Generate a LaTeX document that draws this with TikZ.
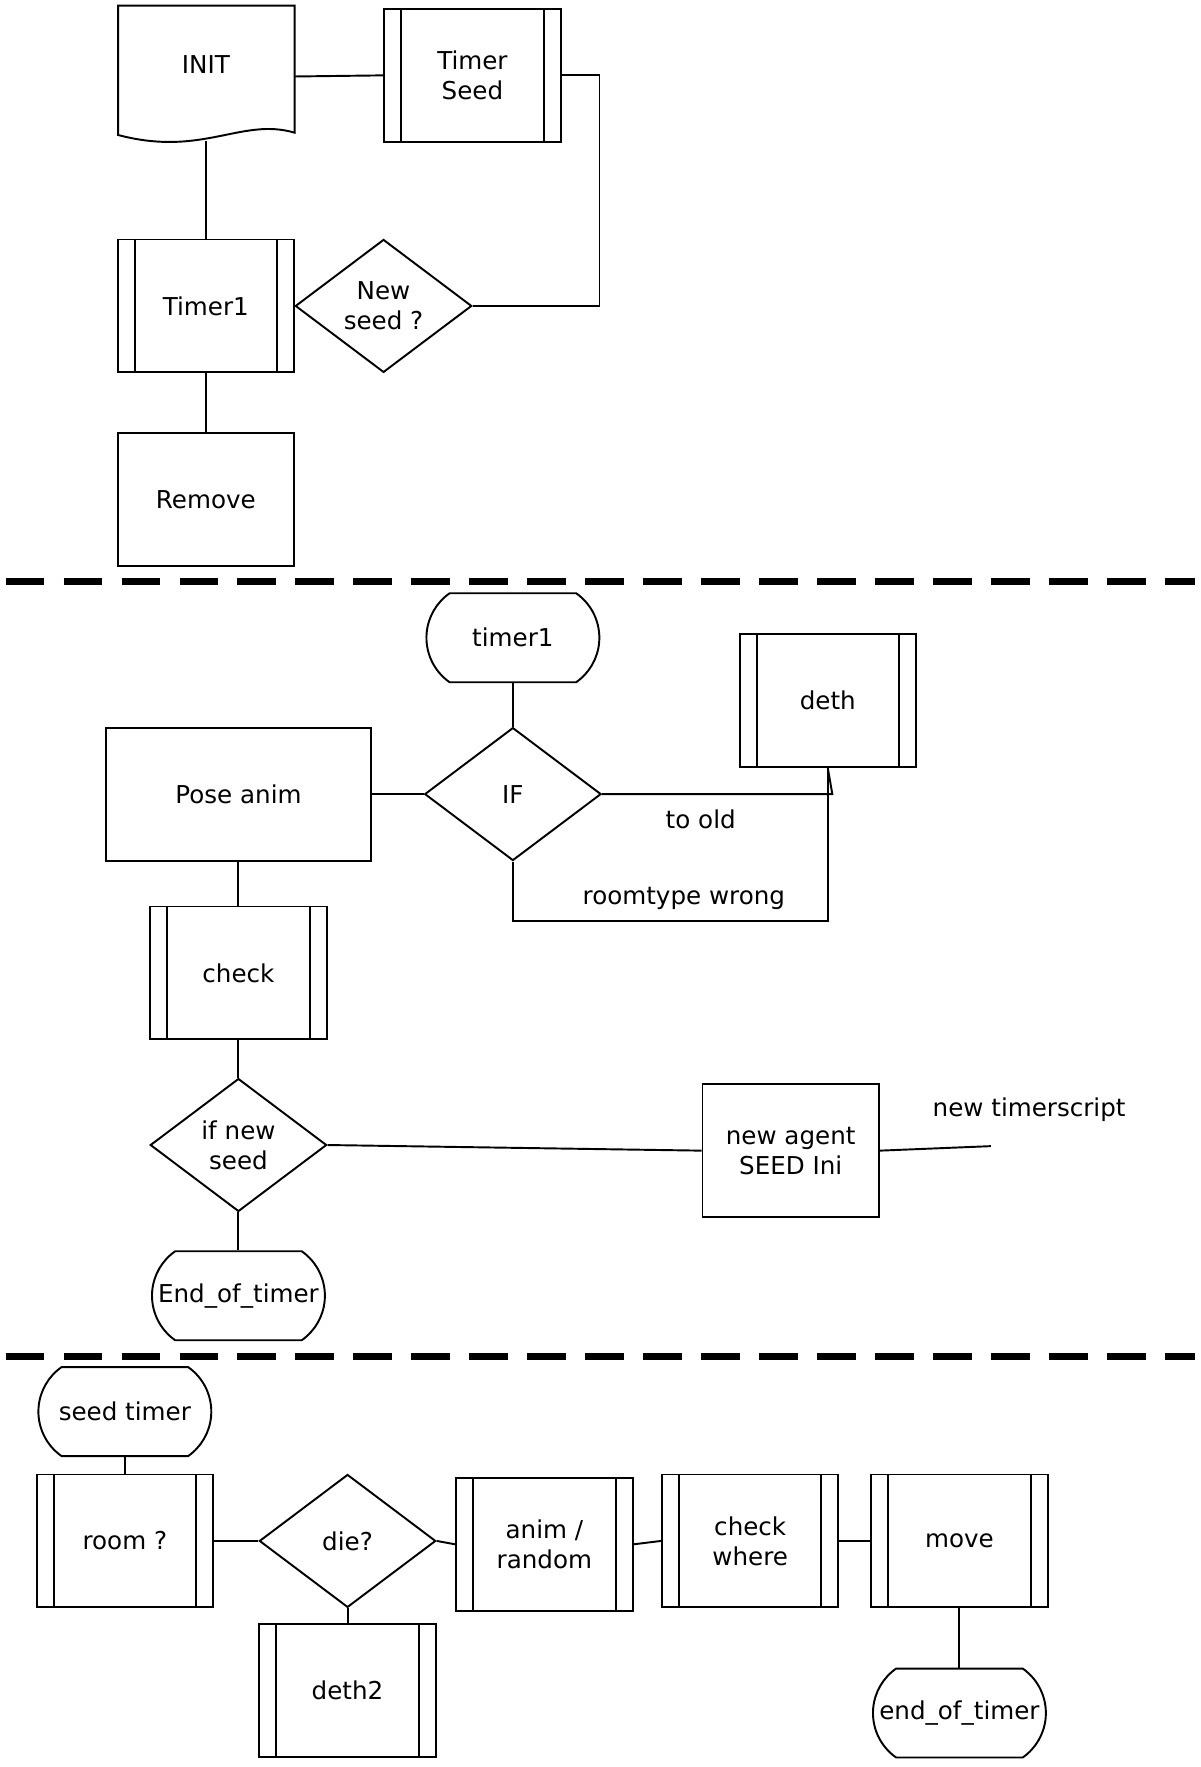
\documentclass[tikz,border=0pt]{standalone}
\usepackage{fontspec}
\setmainfont{DejaVu Sans}
\usetikzlibrary{shapes.geometric,shapes.misc,positioning}

\tikzset{
  box/.style={draw, rectangle, minimum width=3.53cm, minimum height=2.66cm, align=center, inner sep=0pt},
  proc/.style={box, path picture={
      \draw ([xshift=0.34cm]path picture bounding box.north west) -- ([xshift=0.34cm]path picture bounding box.south west);
      \draw ([xshift=-0.34cm]path picture bounding box.north east) -- ([xshift=-0.34cm]path picture bounding box.south east);}},
  test/.style={draw, diamond, minimum width=3.53cm, minimum height=2.66cm, inner sep=0pt, align=center},
  term/.style={draw, rounded rectangle, rounded rectangle arc length=110, minimum width=3.53cm, minimum height=1.78cm, inner sep=1pt},
  sep/.style={line width=3.5pt, dash pattern=on 22pt off 11pt},
}

\begin{document}
\begin{tikzpicture}[x=0.0225cm, y=-0.0225cm, line width=1.1pt, font=\fontsize{14}{17}\selectfont]
  \useasboundingbox (0,0) rectangle (1067,1571);

  % first part
  \draw (105,5) -- (262,5) -- (262,118) .. controls (215,104) and (180,140) .. (105,120) -- cycle;
  \node (init) at (183,57) {INIT};
  \coordinate (init_r) at (262,68);
  \coordinate (init_b) at (183,125);
  \node[proc] (tseed) at (420,67) {Timer\\ Seed};
  \node[proc] (timer1) at (183,272) {Timer1};
  \node[test] (newseed) at (341,272) {New\\ seed ?};
  \node[box] (remove) at (183,444) {Remove};

  \draw (init_r) -- (tseed.west);
  \draw (tseed.east) -| (533,272) -- (newseed.east);
  \draw (init_b) -- (timer1.north);
  \draw (timer1.south) -- (remove.north);

  \draw[sep] (5,517) -- (1062,517);

  % second part
  \node[term] (t1) at (456,567) {timer1};
  \node[proc] (deth) at (736,623) {deth};
  \node[box, minimum width=5.3cm] (pose) at (212,706) {Pose anim};
  \node[test] (if) at (456,706) {IF};
  \node[proc] (check) at (212,865) {check};
  \node[test] (ifnew) at (212,1018) {if new\\ seed};
  \node[box] (agent) at (703,1023) {new agent\\ SEED Ini};
  \node[term] (eot) at (212,1152) {End\_of\_timer};
  \node (newts) at (915,987) {new timerscript};
  \coordinate (ts_end) at (881,1019);

  \draw (t1.south) -- (if.north);
  \draw (pose.east) -- (if.west);
  \draw (if.east) -- (740,706) -- (deth.south);
  \node at (623,728) {to old};
  \draw (if.south) |- (736,819) -- (deth.south);
  \node at (608,799) {roomtype wrong};
  \draw (pose.south) -- (check.north);
  \draw (check.south) -- (ifnew.north);
  \draw (ifnew.east) -- (agent.west);
  \draw (ifnew.south) -- (eot.north);
  \draw (agent.east) -- (ts_end);

  \draw[sep] (5,1206) -- (1062,1206);

  % third part
  \node[term] (st) at (111,1255) {seed timer};
  \node[proc] (room) at (111,1370) {room ?};
  \node[test] (die) at (309,1370) {die?};
  \node[proc] (anim) at (484,1373) {anim /\\ random};
  \node[proc] (cwhere) at (667,1370) {check\\ where};
  \node[proc] (move) at (853,1370) {move};
  \node[proc] (deth2) at (309,1503) {deth2};
  \node[term] (eot2) at (853,1523) {end\_of\_timer};

  \draw (st.south) -- (room.north);
  \draw (room.east) -- (die.west);
  \draw (die.east) -- (anim.west);
  \draw (anim.east) -- (cwhere.west);
  \draw (cwhere.east) -- (move.west);
  \draw (die.south) -- (deth2.north);
  \draw (move.south) -- (eot2.north);
\end{tikzpicture}
\end{document}
